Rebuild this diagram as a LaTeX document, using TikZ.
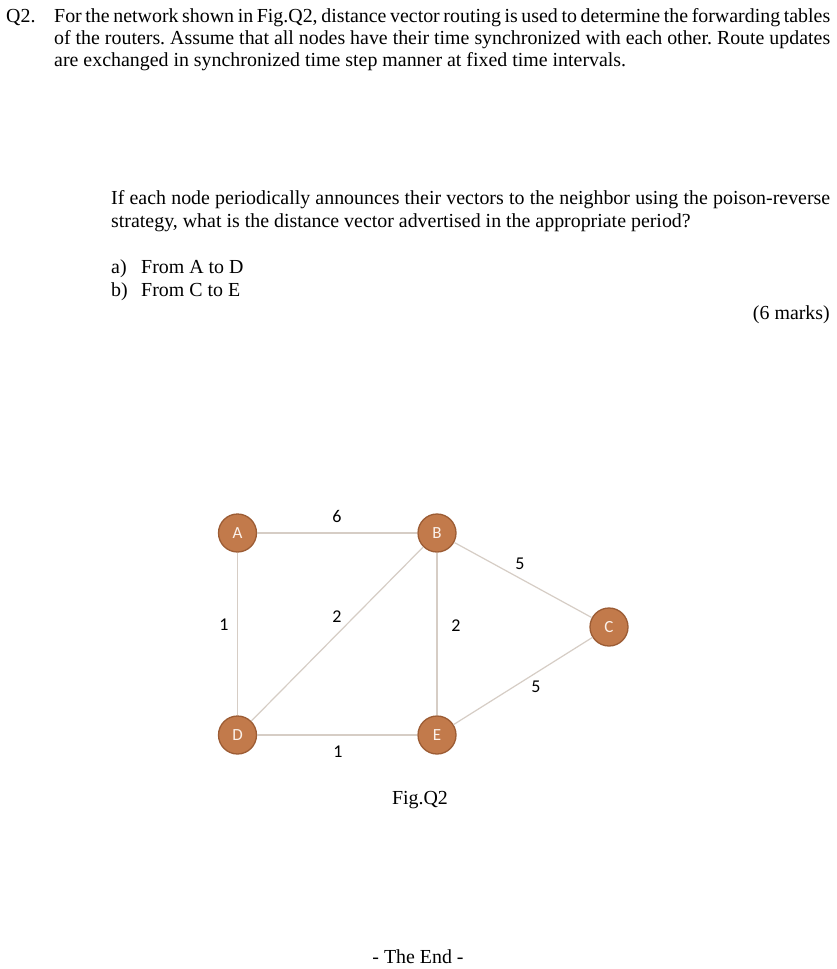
\documentclass[tikz,border=0pt]{standalone}
\usepackage{fontspec}
\setmainfont{Liberation Serif}
\newfontfamily\calfont{Carlito}
\definecolor{nodefill}{HTML}{C27A4B}
\definecolor{nodeedge}{HTML}{9C5C34}
\definecolor{linkcol}{HTML}{D6CDC5}
\definecolor{nodetext}{HTML}{FBF1EA}
\frenchspacing
\begin{document}
\begin{tikzpicture}[x=1pt,y=-1pt,
  txt/.style={anchor=base west,inner sep=0pt,font=\fontsize{19.9}{22}\selectfont},
  router/.style={circle,minimum size=38pt,inner sep=0pt,fill=nodefill,draw=nodeedge,line width=1.3pt,text=nodetext,font=\calfont\fontsize{17}{19}\selectfont},
  link/.style={draw=linkcol,line width=1.2pt},
  wt/.style={font=\calfont\fontsize{18}{20}\selectfont,inner sep=0pt}]
\useasboundingbox[fill=white] (0,0) rectangle (836,969);
% question text
\node[txt] (q) at (6,22) {Q2.};
\node[txt] (l1) at (54,22) {\makebox[776pt][s]{For the network shown in Fig.Q2, distance vector routing is used to determine the forwarding tables}};
\node[txt] (l2) at (54,44) {\makebox[776pt][s]{of the routers. Assume that all nodes have their time synchronized with each other. Route updates}};
\node[txt] (l3) at (54,66) {are exchanged in synchronized time step manner at fixed time intervals.};
\node[txt] (p1) at (111,204) {\makebox[719pt][s]{If each node periodically announces their vectors to the neighbor using the poison-reverse}};
\node[txt] (p2) at (111,227) {strategy, what is the distance vector advertised in the appropriate period?};
\node[txt] (qa) at (111,273) {a)};
\node[txt] (qat) at (141,273) {From A to D};
\node[txt] (qb) at (111,296) {b)};
\node[txt] (qbt) at (141,296) {From C to E};
\node[txt,anchor=base east] (marks) at (830,319) {(6 marks)};
\node[txt,anchor=base] (fig) at (420,804) {Fig.Q2};
\node[txt,anchor=base] (end) at (418,963) {- The End -};
% network
\node[router] (A) at (237.5,533) {A};
\node[router] (B) at (437,533) {B};
\node[router] (C) at (609,627) {C};
\node[router] (D) at (237.5,735) {D};
\node[router] (E) at (437,735) {E};
\draw[link] (A) -- (B);
\draw[link] (A) -- (D);
\draw[link] (D) -- (B);
\draw[link] (B) -- (E);
\draw[link] (D) -- (E);
\draw[link] (B) -- (C);
\draw[link] (E) -- (C);
\node[wt] (w6) at (337,516) {6};
\node[wt] (w1a) at (224,625) {1};
\node[wt] (w2a) at (337,617) {2};
\node[wt] (w2b) at (456,626) {2};
\node[wt] (w5a) at (520,564) {5};
\node[wt] (w5b) at (536,687) {5};
\node[wt] (w1b) at (338,752) {1};
\end{tikzpicture}
\end{document}
